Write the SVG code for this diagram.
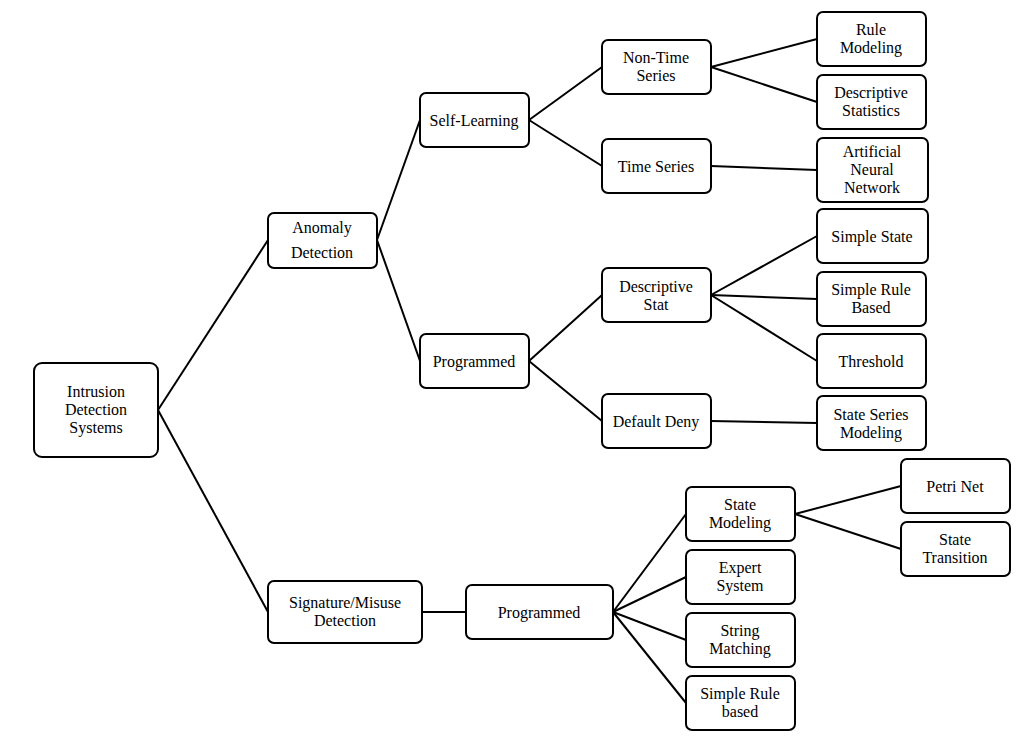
<svg xmlns="http://www.w3.org/2000/svg" width="1024" height="738" viewBox="0 0 1024 738">
<style>
rect{fill:#fff;stroke:#000;stroke-width:2}
text{font-family:"Liberation Serif","Times New Roman",serif;font-size:16px;text-anchor:middle;fill:#000}
#connectors line{stroke:#000;stroke-width:2}
</style>
<rect x="0" y="0" width="1024" height="738" style="stroke:none"/>
<g id="connectors">
<line x1="158" y1="410" x2="268" y2="240"/><line x1="158" y1="410" x2="268" y2="612"/>
<line x1="377" y1="240" x2="420" y2="120"/><line x1="377" y1="240" x2="420" y2="361"/>
<line x1="529" y1="120" x2="602" y2="67"/><line x1="529" y1="120" x2="602" y2="166"/>
<line x1="711" y1="67" x2="817" y2="39"/><line x1="711" y1="67" x2="817" y2="102"/>
<line x1="711" y1="166" x2="817" y2="170"/>
<line x1="529" y1="361" x2="602" y2="295"/><line x1="529" y1="361" x2="602" y2="421"/>
<line x1="711" y1="295" x2="817" y2="236"/><line x1="711" y1="295" x2="817" y2="299"/><line x1="711" y1="295" x2="817" y2="361"/>
<line x1="711" y1="421" x2="817" y2="423"/>
<line x1="422" y1="612" x2="466" y2="612"/>
<line x1="613" y1="612" x2="686" y2="514"/><line x1="613" y1="612" x2="686" y2="577"/><line x1="613" y1="612" x2="686" y2="640"/><line x1="613" y1="612" x2="686" y2="703"/>
<line x1="795" y1="514" x2="901" y2="486"/><line x1="795" y1="514" x2="901" y2="549"/>
</g>
<g id="ids"><rect x="34" y="363" width="124" height="94" rx="8"/><text x="96" y="397">Intrusion</text><text x="96" y="415">Detection</text><text x="96" y="433">Systems</text></g>
<g id="anomaly"><rect x="268" y="213" width="109" height="55" rx="6"/><text x="322" y="233">Anomaly</text><text x="322" y="258">Detection</text></g>
<g id="selflearning"><rect x="420" y="93" width="109" height="54" rx="6"/><text x="474" y="126">Self-Learning</text></g>
<g id="programmedA"><rect x="420" y="334" width="109" height="54" rx="6"/><text x="474" y="367">Programmed</text></g>
<g id="nontime"><rect x="602" y="40" width="109" height="54" rx="6"/><text x="656" y="63">Non-Time</text><text x="656" y="81">Series</text></g>
<g id="timeseries"><rect x="602" y="139" width="109" height="54" rx="6"/><text x="656" y="172">Time Series</text></g>
<g id="descstat"><rect x="602" y="268" width="109" height="54" rx="6"/><text x="656" y="292">Descriptive</text><text x="656" y="310">Stat</text></g>
<g id="defaultdeny"><rect x="602" y="394" width="109" height="54" rx="6"/><text x="656" y="427">Default Deny</text></g>
<g id="rulemodeling"><rect x="817" y="12" width="109" height="54" rx="6"/><text x="871" y="35">Rule</text><text x="871" y="53">Modeling</text></g>
<g id="descstatistics"><rect x="817" y="75" width="109" height="54" rx="6"/><text x="871" y="98">Descriptive</text><text x="871" y="116">Statistics</text></g>
<g id="ann"><rect x="817" y="138" width="111" height="64" rx="6"/><text x="872" y="157">Artificial</text><text x="872" y="175">Neural</text><text x="872" y="193">Network</text></g>
<g id="simplestate"><rect x="817" y="209" width="111" height="54" rx="6"/><text x="872" y="242">Simple State</text></g>
<g id="simplerule"><rect x="817" y="272" width="109" height="54" rx="6"/><text x="871" y="295">Simple Rule</text><text x="871" y="313">Based</text></g>
<g id="threshold"><rect x="817" y="334" width="109" height="54" rx="6"/><text x="871" y="367">Threshold</text></g>
<g id="stateseries"><rect x="817" y="396" width="109" height="54" rx="6"/><text x="871" y="420">State Series</text><text x="871" y="438">Modeling</text></g>
<g id="signature"><rect x="268" y="581" width="154" height="62" rx="6"/><text x="345" y="608">Signature/Misuse</text><text x="345" y="626">Detection</text></g>
<g id="programmedS"><rect x="466" y="585" width="147" height="54" rx="6"/><text x="539" y="618">Programmed</text></g>
<g id="statemodeling"><rect x="686" y="487" width="109" height="54" rx="6"/><text x="740" y="510">State</text><text x="740" y="528">Modeling</text></g>
<g id="expert"><rect x="686" y="550" width="109" height="54" rx="6"/><text x="740" y="573">Expert</text><text x="740" y="591">System</text></g>
<g id="string"><rect x="686" y="613" width="109" height="54" rx="6"/><text x="740" y="636">String</text><text x="740" y="654">Matching</text></g>
<g id="simplerule2"><rect x="686" y="676" width="109" height="54" rx="6"/><text x="740" y="699">Simple Rule</text><text x="740" y="717">based</text></g>
<g id="petri"><rect x="901" y="459" width="109" height="54" rx="6"/><text x="955" y="492">Petri Net</text></g>
<g id="statetrans"><rect x="901" y="522" width="109" height="54" rx="6"/><text x="955" y="545">State</text><text x="955" y="563">Transition</text></g>
</svg>
